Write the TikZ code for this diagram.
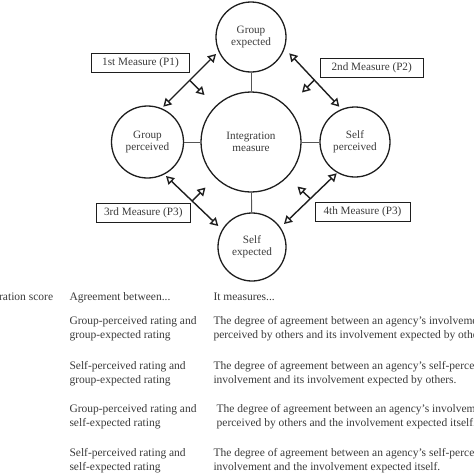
\documentclass[tikz,border=0pt]{standalone}
\usepackage{fontspec}
\setmainfont{Liberation Serif}
\usetikzlibrary{arrows.meta,calc}
\definecolor{txt}{HTML}{3A3A3A}
\definecolor{ln}{HTML}{1E1E1E}
\definecolor{thin}{HTML}{555555}
\tikzset{
  circ/.style={circle,draw=ln,line width=1.3pt,inner sep=0pt,align=center,text=txt,font=\fontsize{11.2}{12.4}\selectfont},
  mbox/.style={draw=ln,line width=0.9pt,inner sep=0pt,minimum height=19pt,text=txt,font=\fontsize{11.2}{12.4}\selectfont},
  link/.style={draw=thin,line width=0.9pt},
  dbl/.style={draw=ln,line width=1.4pt,{Triangle[open,length=8pt,width=9pt]}-{Triangle[open,length=8pt,width=9pt]}},
  sgl/.style={draw=ln,line width=1.4pt,-{Triangle[open,length=8pt,width=9pt]}},
  tcell/.style={anchor=base west,align=left,inner sep=0pt,text=txt,font=\fontsize{11.5}{14}\selectfont},
}
\begin{document}
\begin{tikzpicture}[x=1pt,y=-1pt]
\useasboundingbox (0,0) rectangle (474,474);
\clip (0,0) rectangle (474,474);
% circles
\node[circ,minimum size=70pt] (ge) at (251,37) {Group\\expected};
\node[circ,minimum size=100pt] (im) at (251,142) {Integration\\measure};
\node[circ,minimum size=72pt] (gp) at (147.5,142) {Group\\perceived};
\node[circ,minimum size=70pt] (sp) at (355,142) {Self\\perceived};
\node[circ,minimum size=68pt] (se) at (252,247) {Self\\expected};
% links
\draw[link] (ge) -- (im);
\draw[link] (gp) -- (im);
\draw[link] (sp) -- (im);
\draw[link] (se) -- (im);
% measure boxes
\node[mbox,minimum width=97.6pt] (b1) at (140.5,63.3) {1st Measure (P1)};
\node[mbox,minimum width=103.3pt] (b2) at (371.7,67.8) {2nd Measure (P2)};
\node[mbox,minimum width=93.3pt] (b3) at (143.3,212.5) {3rd Measure (P3)};
\node[mbox,minimum width=95pt] (b4) at (362.5,211.5) {4th Measure (P3)};
% double arrows
\coordinate (a1s) at (163.3,106.7); \coordinate (a1e) at (216,54);
\coordinate (a2s) at (289.3,53.3); \coordinate (a2e) at (339.3,106.7);
\coordinate (a3s) at (166,176); \coordinate (a3e) at (218.3,226);
\coordinate (a4s) at (336.7,173.3); \coordinate (a4e) at (284,224);
\draw[dbl] (a1s) -- (a1e);
\draw[dbl] (a2s) -- (a2e);
\draw[dbl] (a3s) -- (a3e);
\draw[dbl] (a4s) -- (a4e);
\coordinate (m1) at ($(a1s)!0.5!(a1e)$); \coordinate (p1) at (204.5,95);
\coordinate (m2) at ($(a2s)!0.5!(a2e)$); \coordinate (p2) at (302,92.5);
\coordinate (m3) at ($(a3s)!0.5!(a3e)$); \coordinate (p3) at (205.5,187.5);
\coordinate (m4) at ($(a4s)!0.5!(a4e)$); \coordinate (p4) at (297.5,186.5);
\draw[sgl] (m1) -- (p1);
\draw[sgl] (m2) -- (p2);
\draw[sgl] (m3) -- (p3);
\draw[sgl] (m4) -- (p4);
% table (base anchor = baseline of last line)
\node[tcell,anchor=base east] (h1) at (53.3,300) {Integration score};
\node[tcell] (h2) at (69.3,300) {Agreement between...};
\node[tcell] (h3) at (213.3,300) {It measures...};
\node[tcell] (r1b) at (69.3,338.3) {Group-perceived rating and\\group-expected rating};
\node[tcell] (r1c) at (213.3,338.3) {The degree of agreement between an agency’s involvement as\\perceived by others and its involvement expected by others.};
\node[tcell] (r2b) at (69.3,383) {Self-perceived rating and\\group-expected rating};
\node[tcell] (r2c) at (213.3,383) {The degree of agreement between an agency’s self-perceived\\involvement and its involvement expected by others.};
\node[tcell] (r3b) at (69.3,426.2) {Group-perceived rating and\\self-expected rating};
\node[tcell] (r3c) at (216.5,426.2) {The degree of agreement between an agency’s involvement as\\perceived by others and the involvement expected itself.};
\node[tcell] (r4b) at (69.3,470) {Self-perceived rating and\\self-expected rating};
\node[tcell] (r4c) at (213.3,470) {The degree of agreement between an agency’s self-perceived\\involvement and the involvement expected itself.};
\end{tikzpicture}
\end{document}
